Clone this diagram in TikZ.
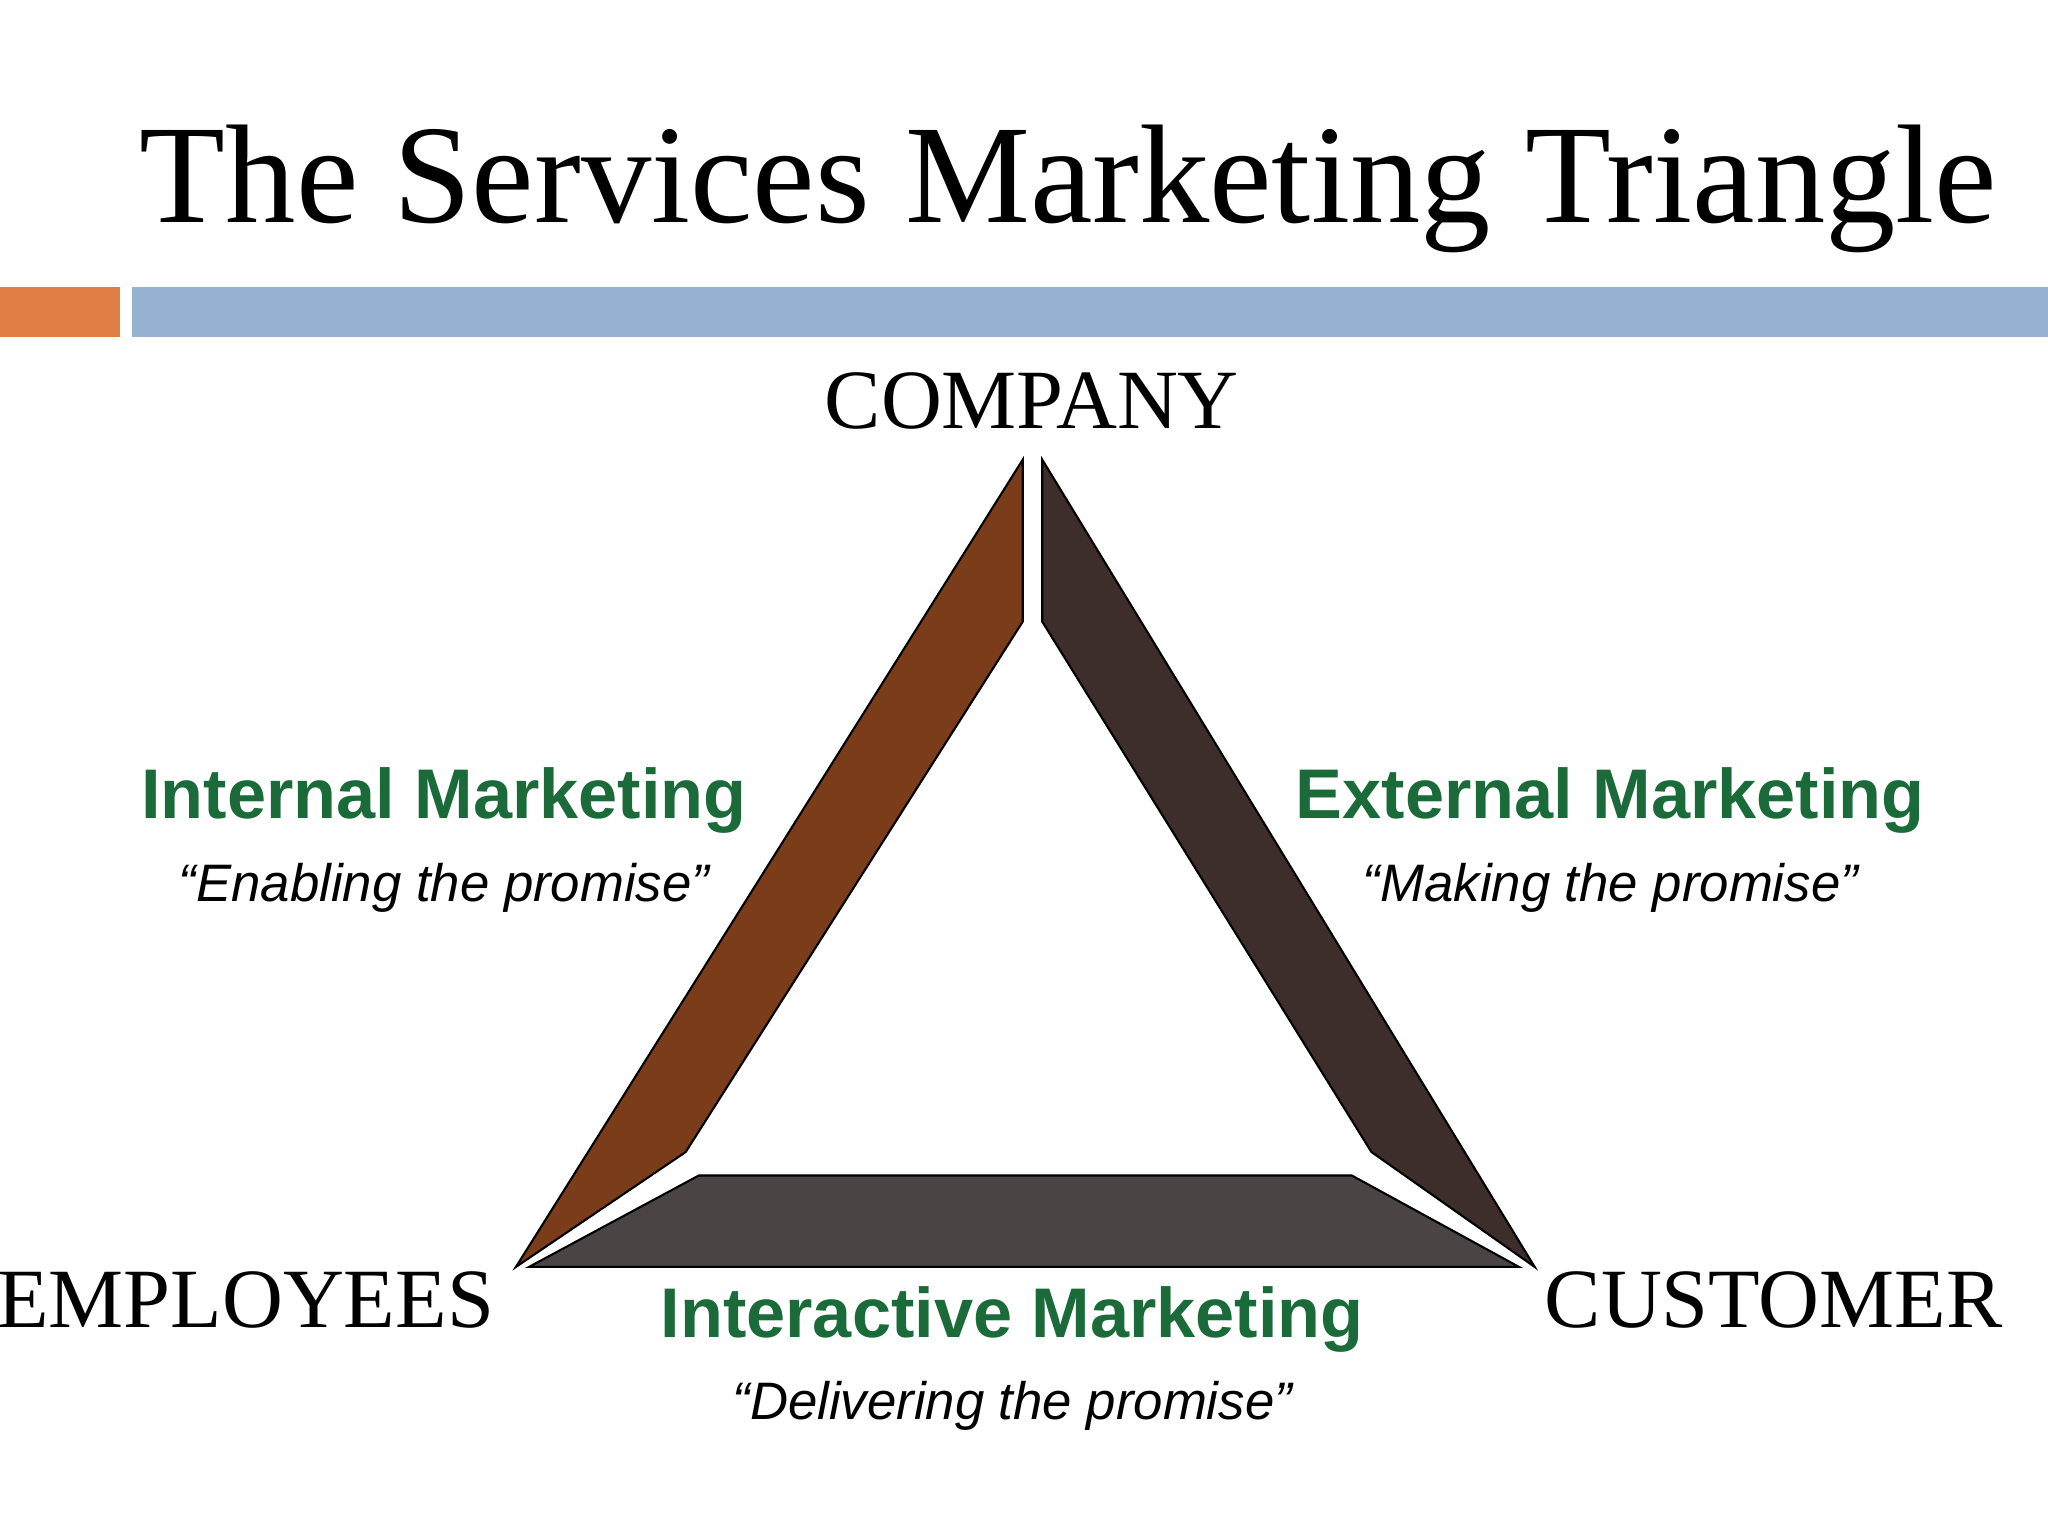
\documentclass[tikz,border=0pt]{standalone}
\usepackage{fontspec}
\setmainfont{Liberation Serif}
\newfontfamily\labelfont{Liberation Sans}
\usetikzlibrary{positioning}
\definecolor{barorange}{HTML}{E07F45}
\definecolor{barblue}{HTML}{95B3D1}
\definecolor{sidebrown}{HTML}{7B3C1A}
\definecolor{sidedark}{HTML}{3D2E2B}
\definecolor{sidegrey}{HTML}{4A4445}
\definecolor{mgreen}{HTML}{1B6B3A}
\tikzset{
  corner/.style={font=\fontsize{24}{28}\selectfont},
  side/.style={draw=black, line width=0.6pt, line join=miter},
  mhead/.style={font=\labelfont\bfseries\fontsize{20}{24}\selectfont, text=mgreen, inner sep=1pt},
  mquote/.style={font=\labelfont\itshape\fontsize{15}{18}\selectfont, inner sep=1pt}
}
\begin{document}
\begin{tikzpicture}[x=0.013061cm, y=-0.013061cm]
        \useasboundingbox (0,0) rectangle (1568,1176);

        % title and bars
        \node[font=\fontsize{40}{46}\selectfont] (title) at (818,145) {The Services Marketing Triangle};
        \fill[barorange] (0,220) rectangle (92,258);
        \fill[barblue] (101,220) rectangle (1568,258);

        % triangle sides
        \filldraw[side, fill=sidebrown] (783,352) -- (783,476) -- (525,882) -- (395,970) -- cycle;
        \filldraw[side, fill=sidedark] (798,352) -- (798,476) -- (1050,882) -- (1175,970) -- cycle;
        \filldraw[side, fill=sidegrey] (405,970) -- (535,900) -- (1035,900) -- (1163,970) -- cycle;

        % corners
        \node[corner] (company) at (790,307) {COMPANY};
        \node[corner] (employees) at (188,995) {EMPLOYEES};
        \node[corner] (customer) at (1358,995) {CUSTOMER};

        % marketing labels
        \node[mhead] (internal) at (340,613) {Internal Marketing};
        \node[mquote, below=6pt of internal] (enabling) {“Enabling the promise”};
        \node[mhead] (external) at (1233,613) {External Marketing};
        \node[mquote, below=6pt of external] (making) {“Making the promise”};
        \node[mhead] (interactive) at (775,1010) {Interactive Marketing};
        \node[mquote, below=6pt of interactive] (delivering) {“Delivering the promise”};
\end{tikzpicture}
\end{document}
